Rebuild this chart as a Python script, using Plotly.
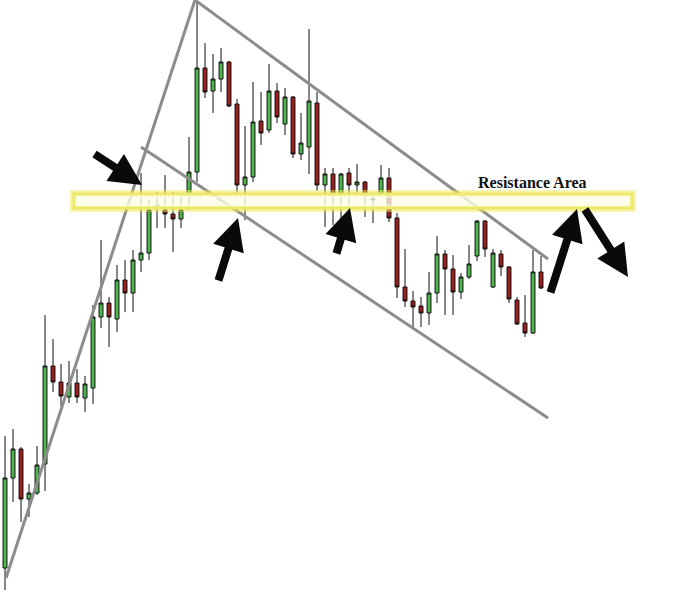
import plotly.graph_objects as go

# Price levels (arbitrary chart units), one candle per session
opens = [27, 117, 146, 96, 102, 131, 229, 213, 198, 212, 197, 207, 278, 292, 276, 315, 302, 335, 342, 387,
         385, 381, 376, 401, 423, 527, 504, 516, 533, 491, 410, 418, 474, 465, 504, 471, 498, 441, 448, 492,
         410, 421, 402, 422, 410, 413, 395, 401, 417, 377, 308, 294, 289, 282, 302, 341, 326, 303, 318, 339,
         374, 308, 341, 328, 295, 272, 262, 323]
highs = [159, 166, 148, 111, 149, 280, 256, 231, 234, 226, 219, 290, 355, 298, 330, 335, 345, 422, 395, 403,
         420, 403, 398, 458, 593, 552, 541, 547, 534, 496, 469, 513, 503, 531, 512, 507, 499, 482, 566, 503,
         427, 427, 422, 427, 431, 414, 401, 430, 427, 382, 346, 304, 298, 323, 359, 345, 340, 322, 350, 375,
         375, 346, 345, 329, 298, 300, 345, 339]
lows = [5, 93, 73, 78, 100, 104, 203, 189, 192, 192, 183, 191, 267, 248, 263, 283, 283, 323, 335, 367,
        367, 343, 367, 385, 413, 497, 482, 503, 488, 402, 375, 413, 450, 462, 472, 460, 437, 435, 421, 404,
        368, 370, 373, 385, 400, 378, 372, 398, 373, 297, 288, 268, 268, 270, 292, 280, 280, 296, 316, 334,
        338, 307, 319, 292, 270, 258, 261, 306]
closes = [117, 146, 96, 102, 130, 229, 213, 199, 212, 198, 211, 278, 292, 278, 315, 302, 335, 342, 385, 390,
          381, 376, 385, 423, 527, 503, 516, 533, 489, 410, 418, 473, 462, 504, 478, 498, 441, 452, 494, 410,
          421, 402, 421, 410, 413, 401, 396, 417, 377, 308, 294, 288, 282, 302, 341, 326, 303, 318, 331, 374,
          346, 342, 328, 296, 271, 262, 323, 307]
sessions = list(range(len(opens)))

# Drawn studies (session index, price)
trend_lines = [
    ((0.125, 17), (23.75, 595)),   # rising trend line
    ((23.75, 595), (67.875, 336)), # upper channel line
    ((17.0, 448), (67.875, 177)),  # lower channel line
]
resistance_zone = ((8.625, 387), (78.375, 401))
resistance_label = "Resistance Area"
label_pos = (65.875, 413)
arrows = [  # (tail, tip)
    ((11.0, 442), (17.125, 410)),
    ((26.625, 313), (29.125, 377)),
    ((41.375, 340), (43.125, 387)),
    ((68.125, 301), (71.5, 386)),
    ((72.375, 387), (77.875, 318)),
]

fig = go.Figure()
fig.add_trace(go.Candlestick(
    x=sessions, open=opens, high=highs, low=lows, close=closes,
    increasing=dict(line=dict(color="#111111", width=1), fillcolor="#4cb84c"),
    decreasing=dict(line=dict(color="#111111", width=1), fillcolor="#9e1c1c"),
    whiskerwidth=0, showlegend=False, hoverinfo="skip",
))

shapes = []
for (x0, y0), (x1, y1) in trend_lines:
    shapes.append(dict(type="line", xref="x", yref="y", x0=x0, y0=y0, x1=x1, y1=y1,
                       line=dict(color="#8c8c8c", width=3), layer="above"))
(zx0, zy0), (zx1, zy1) = resistance_zone
shapes.append(dict(type="rect", xref="x", yref="y", x0=zx0, y0=zy0, x1=zx1, y1=zy1,
                   line=dict(color="rgba(240,236,90,0.5)", width=8), fillcolor="rgba(0,0,0,0)",
                   layer="above"))
shapes.append(dict(type="rect", xref="x", yref="y", x0=zx0, y0=zy0, x1=zx1, y1=zy1,
                   line=dict(color="#ece868", width=3), fillcolor="rgba(255,255,236,0.78)",
                   layer="above"))

annotations = [dict(x=label_pos[0], y=label_pos[1], xref="x", yref="y", text="<b>" + resistance_label + "</b>",
                    showarrow=False, font=dict(family="Liberation Serif", size=16, color="#111111"))]
for (tx, ty), (hx, hy) in arrows:
    annotations.append(dict(x=hx, y=hy, ax=tx, ay=ty, xref="x", yref="y", axref="x", ayref="y",
                            text="", showarrow=True, arrowhead=2, arrowsize=0.8, arrowwidth=8,
                            arrowcolor="#0a0a0a"))

fig.update_layout(
    width=682, height=595, margin=dict(l=0, r=0, t=0, b=0),
    paper_bgcolor="white", plot_bgcolor="white",
    shapes=shapes, annotations=annotations,
    xaxis=dict(range=[-0.625, 84.625], visible=False, rangeslider=dict(visible=False), fixedrange=True),
    yaxis=dict(range=[0, 595], visible=False, fixedrange=True),
)
fig.write_html("out.html", config={"displayModeBar": False},
               post_script="document.body.style.margin='0';document.body.style.overflow='hidden';")
